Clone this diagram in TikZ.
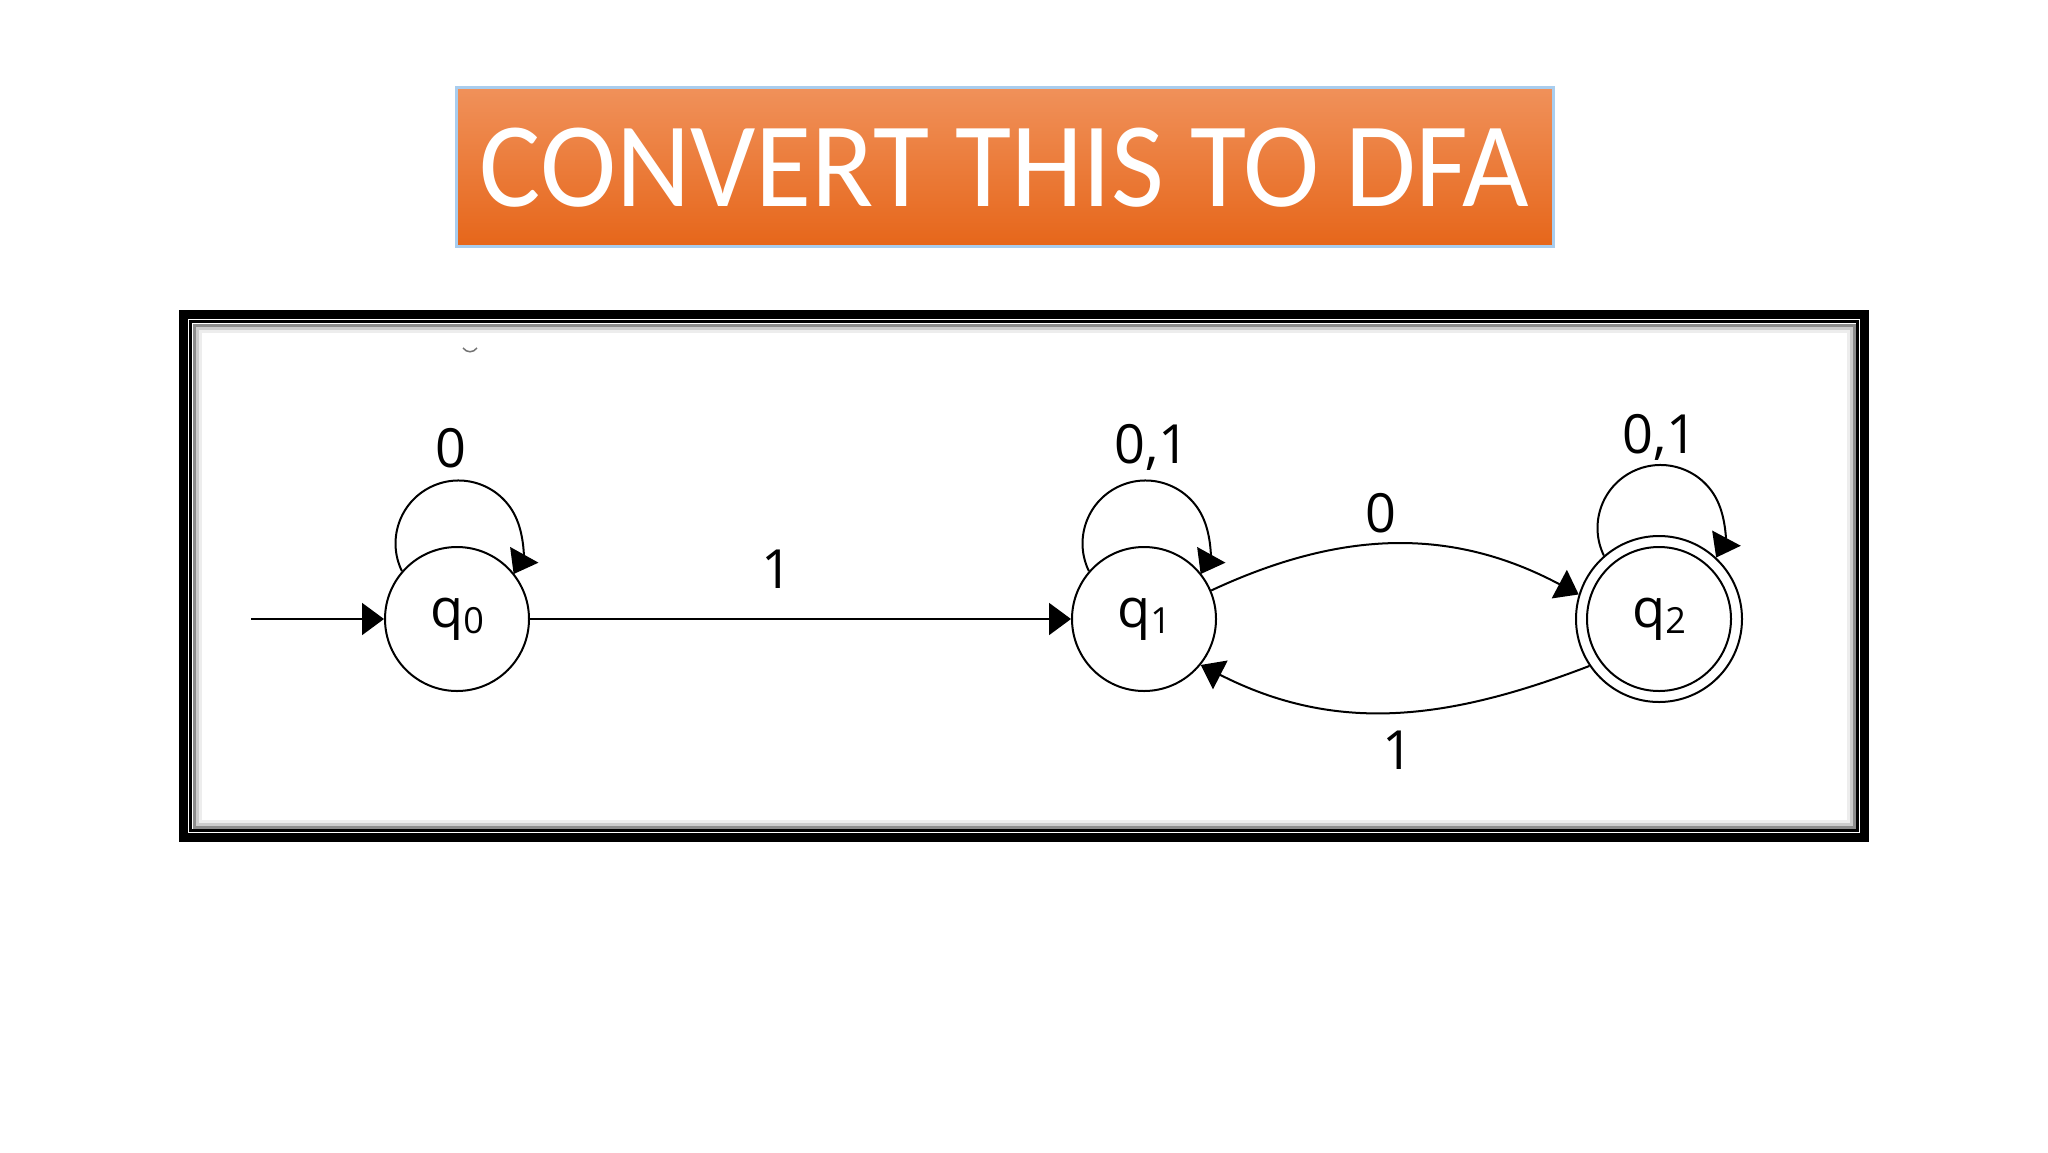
\documentclass[tikz,border=0pt]{standalone}
\usepackage{fontspec}
\setmainfont{Open Sans}
\newfontfamily\titlefont{Carlito}
\usetikzlibrary{arrows.meta}
\definecolor{tbtop}{HTML}{F0915A}
\definecolor{tbbot}{HTML}{E6661A}
\definecolor{tbedge}{HTML}{A9CDEE}
\newcommand\stsub[2]{#1\raisebox{-6pt}{\fontsize{36}{38}\selectfont #2}}
\begin{document}
\begin{tikzpicture}[x=1pt,y=1pt,
  state/.style={circle, draw, line width=2pt, minimum size=144pt, inner sep=0pt, font=\fontsize{54}{60}\selectfont},
  accstate/.style={state, minimum size=166pt},
  edgelbl/.style={font=\fontsize{54}{60}\selectfont, text depth=0pt, inner sep=0pt},
  trans/.style={line width=2pt, -{Triangle[length=22pt,width=32pt]}},
  titlebox/.style={minimum width=1097pt, minimum height=159pt, inner sep=0pt,
     top color=tbtop, bottom color=tbbot, draw=tbedge, line width=3pt,
     text=white, text depth=0pt, font=\titlefont\fontsize{121}{130}\selectfont},
]
\fill[white] (0,0) rectangle (2048,-1152);
\useasboundingbox (0,0) rectangle (2048,-1152);

% title
\node[titlebox] (title) at (1004.5,-167) {\scalebox{0.95}[1]{CONVERT THIS TO DFA}};

% frame
\draw[line width=9pt] (183.5,-314.5) rectangle (1864.5,-837.5);
\draw[line width=2.5pt] (190.5,-321.5) rectangle (1857.5,-830.5);
\draw[line width=3pt, black!45] (194,-325) rectangle (1854,-827);
\draw[line width=3pt, black!20] (197,-328) rectangle (1851,-824);
\draw[line width=3pt, black!7] (200,-331) rectangle (1848,-821);

% small mark
\draw[black!55, line width=1.5pt] (463,-348) .. controls (467,-353) and (473,-353) .. (477,-348);

% states
\node[state] (q0) at (457,-619) {\stsub{q}{0}};
\node[state] (q1) at (1144,-619) {\stsub{q}{1}};
\node[accstate] (q2) at (1659,-619) {\stsub{q}{2}};
\draw[line width=2pt] (q2.center) circle[radius=72pt];
\coordinate (start) at (251,-619);

% transitions
\draw[trans] (start) -- (q0);
\draw[trans] (q0) -- (q1);
\draw[trans] (q0.139) arc[start angle=206, end angle=-29, radius=63];
\draw[trans] (q1.139) arc[start angle=206, end angle=-29, radius=63];
\draw[trans] (q2.131) arc[start angle=206, end angle=-28, radius=63];
\draw[trans] (q1.23) to[out=25,in=152] (q2.163);
\draw[trans] (q2.214) to[out=201,in=-27] (q1.321);

% labels
\node[edgelbl] (l00) at (451,-448) {0};
\node[edgelbl] (l11) at (1152,-444) {0,1};
\node[edgelbl] (l22) at (1660,-434) {0,1};
\node[edgelbl] (l01) at (777,-569) {1};
\node[edgelbl] (l12) at (1381,-513) {0};
\node[edgelbl] (l21) at (1398,-750) {1};
\end{tikzpicture}
\end{document}
